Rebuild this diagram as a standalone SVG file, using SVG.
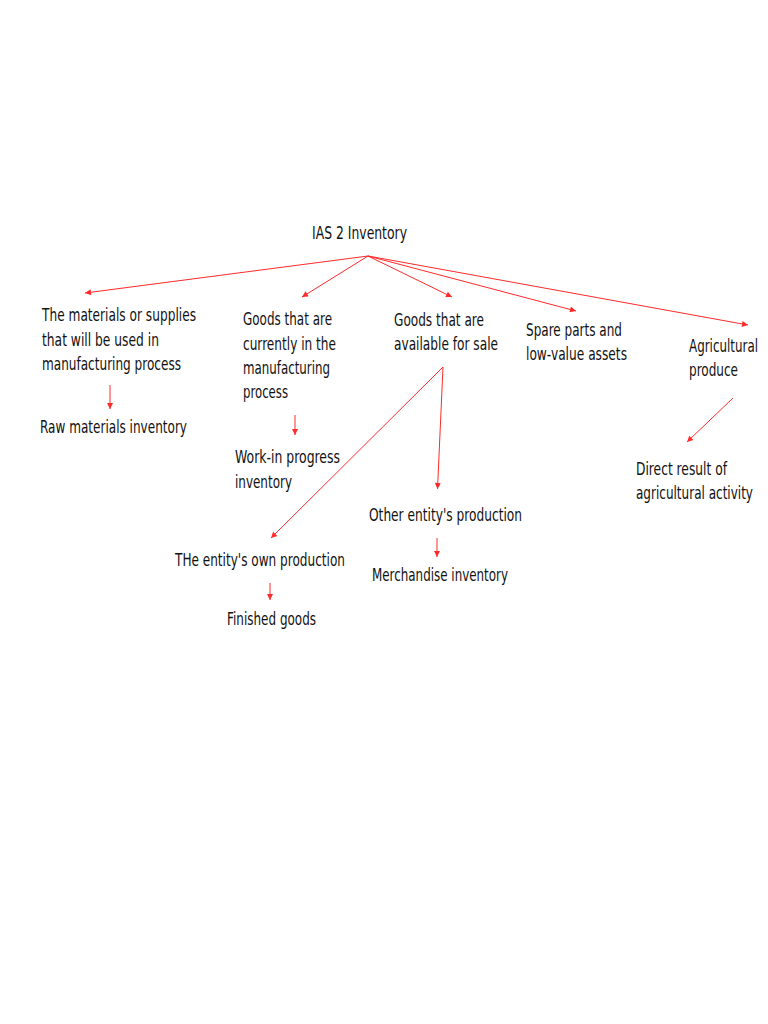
<svg xmlns="http://www.w3.org/2000/svg" width="768" height="1024" viewBox="0 0 768 1024">
<style>
  text { font-family: "DejaVu Sans", Verdana, sans-serif; font-size: 17.5px; fill: #111111; }
  .c line { stroke: #ff2a2a; stroke-width: 1; fill: none; marker-end: url(#ah); }
</style>
<defs>
  <marker id="ah" viewBox="0 0 10 10" refX="10" refY="5" markerWidth="7" markerHeight="6" markerUnits="userSpaceOnUse" orient="auto">
    <path d="M0,0 L10,5 L0,10 z" fill="#ff2a2a"/>
  </marker>
</defs>
<rect width="768" height="1024" fill="#ffffff"/>

<g id="connectors" class="c">
  <line x1="368" y1="256" x2="85" y2="293"/>
  <line x1="368" y1="256" x2="302" y2="297"/>
  <line x1="368" y1="256" x2="452" y2="297"/>
  <line x1="368" y1="256" x2="576" y2="311"/>
  <line x1="368" y1="256" x2="748" y2="325"/>
  <line x1="110" y1="385" x2="110" y2="409"/>
  <line x1="295" y1="415" x2="295" y2="435"/>
  <line x1="443" y1="367" x2="271" y2="538"/>
  <line x1="443" y1="367" x2="437.5" y2="489"/>
  <line x1="437" y1="538" x2="437" y2="557"/>
  <line x1="270" y1="583" x2="270" y2="600"/>
  <line x1="733" y1="398" x2="687" y2="442"/>
</g>

<g id="root"><text x="312" y="239" textLength="95" lengthAdjust="spacingAndGlyphs">IAS 2 Inventory</text></g>

<g id="materials">
  <text x="42" y="321" textLength="154" lengthAdjust="spacingAndGlyphs">The materials or supplies</text>
  <text x="42" y="346" textLength="117" lengthAdjust="spacingAndGlyphs">that will be used in</text>
  <text x="42" y="370" textLength="139" lengthAdjust="spacingAndGlyphs">manufacturing process</text>
</g>
<g id="raw"><text x="40" y="433" textLength="147" lengthAdjust="spacingAndGlyphs">Raw materials inventory</text></g>

<g id="current">
  <text x="243" y="325" textLength="89" lengthAdjust="spacingAndGlyphs">Goods that are</text>
  <text x="243" y="350" textLength="93" lengthAdjust="spacingAndGlyphs">currently in the</text>
  <text x="243" y="374" textLength="87" lengthAdjust="spacingAndGlyphs">manufacturing</text>
  <text x="243" y="398" textLength="45" lengthAdjust="spacingAndGlyphs">process</text>
</g>
<g id="wip">
  <text x="235" y="463" textLength="105" lengthAdjust="spacingAndGlyphs">Work-in progress</text>
  <text x="235" y="488" textLength="57" lengthAdjust="spacingAndGlyphs">inventory</text>
</g>

<g id="sale">
  <text x="394" y="326" textLength="90" lengthAdjust="spacingAndGlyphs">Goods that are</text>
  <text x="394" y="350" textLength="104" lengthAdjust="spacingAndGlyphs">available for sale</text>
</g>
<g id="own"><text x="175" y="566" textLength="170" lengthAdjust="spacingAndGlyphs">THe entity's own production</text></g>
<g id="finished"><text x="227" y="625" textLength="89" lengthAdjust="spacingAndGlyphs">Finished goods</text></g>
<g id="other"><text x="369" y="521" textLength="153" lengthAdjust="spacingAndGlyphs">Other entity's production</text></g>
<g id="merch"><text x="372" y="581" textLength="136" lengthAdjust="spacingAndGlyphs">Merchandise inventory</text></g>

<g id="spare">
  <text x="526" y="336" textLength="96" lengthAdjust="spacingAndGlyphs">Spare parts and</text>
  <text x="526" y="360" textLength="101" lengthAdjust="spacingAndGlyphs">low-value assets</text>
</g>

<g id="agri">
  <text x="689" y="352" textLength="69" lengthAdjust="spacingAndGlyphs">Agricultural</text>
  <text x="689" y="376" textLength="49" lengthAdjust="spacingAndGlyphs">produce</text>
</g>
<g id="direct">
  <text x="636" y="475" textLength="91" lengthAdjust="spacingAndGlyphs">Direct result of</text>
  <text x="636" y="499" textLength="117" lengthAdjust="spacingAndGlyphs">agricultural activity</text>
</g>
</svg>
